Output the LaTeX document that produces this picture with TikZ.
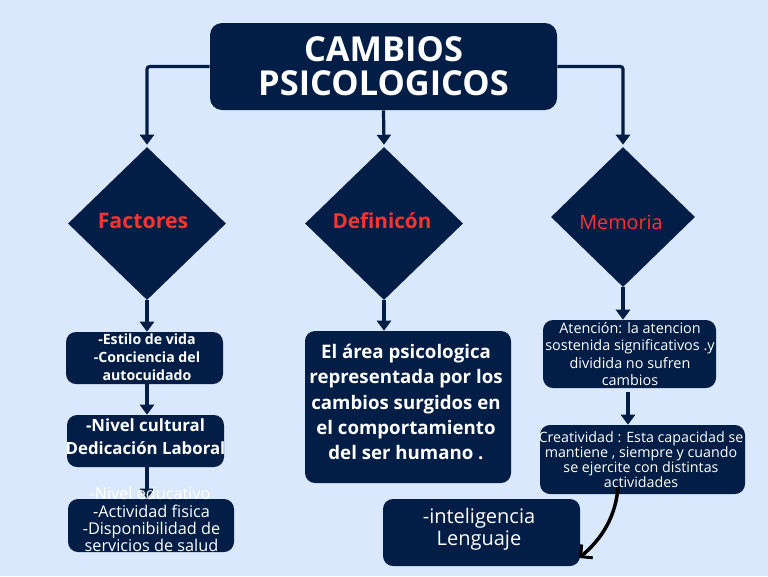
\documentclass[tikz,border=0pt]{standalone}
\usepackage{fontspec}
\setmainfont{Open Sans}
\usetikzlibrary{shapes.geometric,arrows.meta}
\definecolor{bgc}{HTML}{D9E8FC}
\definecolor{navy}{HTML}{031E46}
\definecolor{redt}{HTML}{FF3131}
\begin{document}
\begin{tikzpicture}[x=0.75pt,y=-0.75pt,
  box/.style={fill=navy,rounded corners=7.5pt,inner sep=0pt,draw=none},
  dia/.style={diamond,fill=navy,inner sep=0pt,draw=none},
  txt/.style={text=white,align=center,inner sep=0pt},
  conn/.style={draw=navy,line width=2.4pt,-{Triangle[width=10.5pt,length=7.5pt]}},
  bendarrow/.style={draw=black,line width=2.6pt,-{Straight Barb[width=13pt,length=6.5pt,line width=2.2pt]}}]
\fill[bgc] (0,0) rectangle (768,576);
\useasboundingbox (0,0) rectangle (768,576);
% title
\node[box,rounded corners=9pt,minimum width=347*0.75pt,minimum height=87*0.75pt] (title) at (383.5,66.5) {};
\node[txt,font=\fontsize{25.8}{25.8}\selectfont\bfseries] (titletxt) at (383.5,66) {CAMBIOS\\PSICOLOGICOS};
% diamonds
\node[dia,minimum width=158*0.75pt,minimum height=153*0.75pt] (fac) at (147,223.5) {};
\node[dia,minimum width=158*0.75pt,minimum height=153*0.75pt] (def) at (384,223.5) {};
\node[dia,minimum width=144*0.75pt,minimum height=140*0.75pt] (mem) at (623,217) {};
\node[txt,text=redt,font=\fontsize{16}{18}\selectfont\bfseries] (factxt) at (143,221) {Factores};
\node[txt,text=redt,font=\fontsize{15.5}{18}\selectfont\bfseries] (deftxt) at (382,221) {Definicón};
\node[txt,text=redt,font=\fontsize{14.8}{17}\selectfont] (memtxt) at (621,222) {Memoria};
% Factores column
\node[box,minimum width=157*0.75pt,minimum height=52*0.75pt] (f1) at (144.5,358) {};
\node[txt,font=\fontsize{10.6}{13.5}\selectfont\bfseries] (f1txt) at (147,357) {-Estilo de vida\\-Conciencia del\\autocuidado};
\node[box,minimum width=157*0.75pt,minimum height=52*0.75pt] (f2) at (145.5,441) {};
\node[txt,font=\fontsize{12.6}{17}\selectfont\bfseries] (f2txt) at (145.5,437) {-Nivel cultural\\Dedicación Laboral};
\node[box,minimum width=166*0.75pt,minimum height=53*0.75pt] (f3) at (151,525.5) {};
\node[txt,font=\fontsize{12.2}{12.8}\selectfont] (f3txt) at (151.5,528) {-Actividad fisica\\-Disponibilidad de\\servicios de salud};
% Definicion box
\node[box,minimum width=206*0.75pt,minimum height=152*0.75pt] (d1) at (408,407) {};
\node[txt,font=\fontsize{14}{18.8}\selectfont\bfseries] (d1txt) at (406,402) {El área psicologica\\representada por los\\cambios surgidos en\\el comportamiento\\del ser humano .};
% Memoria column
\node[box,minimum width=173*0.75pt,minimum height=68*0.75pt] (m1) at (629.5,354) {};
\node[txt,font=\fontsize{10.8}{13}\selectfont] (m1txt) at (630,354) {Atención: la atencion\\sostenida significativos .y\\dividida no sufren\\cambios};
\node[box,minimum width=205*0.75pt,minimum height=69*0.75pt] (m2) at (642.5,459.5) {};
\node[txt,font=\fontsize{10.7}{11.2}\selectfont] (m2txt) at (641,460) {Creatividad : Esta capacidad se\\mantiene , siempre y cuando\\se ejercite con distintas\\actividades};
\node[box,minimum width=197*0.75pt,minimum height=67*0.75pt] (intel) at (481.5,532.5) {};
\node[txt,font=\fontsize{15}{16.5}\selectfont] (inteltxt) at (479,529) {-inteligencia\\Lenguaje};
% connectors
\draw[conn,rounded corners=2pt] (title.west) -| ([yshift=1.5pt]fac.north);
\draw[conn,rounded corners=2pt] (title.east) -| ([yshift=1.5pt]mem.north);
\draw[conn] (title.south) -- ([yshift=1.5pt]def.north);
\draw[conn] (fac.south) -- (fac.south |- f1.north);
\draw[conn] (fac.south |- f1.south) -- (fac.south |- f2.north);
\draw[conn] (fac.south |- f2.south) -- (fac.south |- f3.north);
\draw[conn] (def.south) -- (def.south |- d1.north);
\draw[conn] (mem.south) -- (mem.south |- m1.north);
\coordinate (m1out) at (628,392);
\draw[conn] (m1out) -- (m1out |- m2.north);
\coordinate (m2out) at (618,487);
\coordinate (tipend) at (579,558);
\draw[bendarrow] (m2out) .. controls (616,515) and (603,538) .. (tipend);
% overlapping text
\node[txt,font=\fontsize{12.2}{12.8}\selectfont] (f3extra) at (150,493) {-Nivel educativo};
\end{tikzpicture}
\end{document}
